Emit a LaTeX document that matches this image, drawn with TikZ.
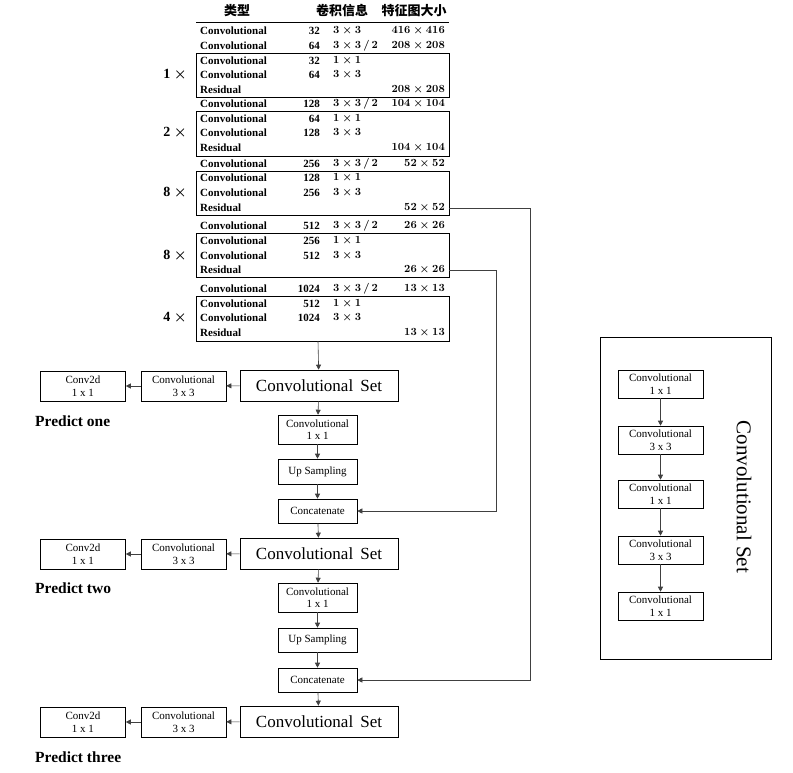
\documentclass[tikz,border=0pt]{standalone}
\usepackage{fontspec}
\setmainfont{Liberation Serif}
\newfontfamily\cjk{Noto Sans CJK SC}
\usetikzlibrary{arrows.meta}
\newcommand\trow[6]{%
 \node[tx,anchor=west] (#1a) at (200,#2) {#3};
 \node[tx,anchor=east] (#1b) at (320,#2) {#4};
 \node[tx,anchor=west] (#1c) at (333,#2) {#5};
 \node[tx,anchor=east] (#1d) at (445,#2) {#6};}
\begin{document}
\begin{tikzpicture}[x=1pt,y=-1pt,
 tx/.style={font=\bfseries\boldmath\fontsize{11}{12}\selectfont,inner sep=0pt},
 rep/.style={font=\bfseries\boldmath\fontsize{14}{15}\selectfont,inner sep=0pt},
 grp/.style={draw,line width=0.8pt},
 sb/.style={draw,line width=0.6pt,align=center,font=\fontsize{11}{12.5}\selectfont,inner sep=0pt},
 arr/.style={draw=black!75,line width=0.6pt,-{Triangle[length=5pt,width=5pt]}}]
\useasboundingbox (0,0) rectangle (793,772);
\fill[white] (0,0) rectangle (793,772);
% header
\node[font=\cjk\bfseries\fontsize{13}{14}\selectfont] (h1) at (237,11) {类型};
\node[font=\cjk\bfseries\fontsize{13}{14}\selectfont] (h2) at (342,11) {卷积信息};
\node[font=\cjk\bfseries\fontsize{13}{14}\selectfont] (h3) at (414,11) {特征图大小};
\draw[line width=0.6pt] (196,22) -- (449,22);
\trow{r1}{31}{Convolutional}{32}{$3\times3$}{$416\times416$}
\trow{r2}{46}{Convolutional}{64}{$3\times3\,/\,2$}{$208\times208$}
\trow{r3}{61}{Convolutional}{32}{$1\times1$}{}
\trow{r4}{75}{Convolutional}{64}{$3\times3$}{}
\trow{r5}{90}{Residual}{}{}{$208\times208$}
\trow{r6}{104}{Convolutional}{128}{$3\times3\,/\,2$}{$104\times104$}
\trow{r7}{119}{Convolutional}{64}{$1\times1$}{}
\trow{r8}{133}{Convolutional}{128}{$3\times3$}{}
\trow{r9}{148}{Residual}{}{}{$104\times104$}
\trow{r10}{164}{Convolutional}{256}{$3\times3\,/\,2$}{$52\times52$}
\trow{r11}{178}{Convolutional}{128}{$1\times1$}{}
\trow{r12}{193}{Convolutional}{256}{$3\times3$}{}
\trow{r13}{208}{Residual}{}{}{$52\times52$}
\trow{r14}{226}{Convolutional}{512}{$3\times3\,/\,2$}{$26\times26$}
\trow{r15}{241}{Convolutional}{256}{$1\times1$}{}
\trow{r16}{256}{Convolutional}{512}{$3\times3$}{}
\trow{r17}{270}{Residual}{}{}{$26\times26$}
\trow{r18}{289}{Convolutional}{1024}{$3\times3\,/\,2$}{$13\times13$}
\trow{r19}{304}{Convolutional}{512}{$1\times1$}{}
\trow{r20}{318}{Convolutional}{1024}{$3\times3$}{}
\trow{r21}{333}{Residual}{}{}{$13\times13$}
\draw[grp] (196,53) rectangle (449,97);
\draw[grp] (196,111) rectangle (449,156);
\draw[grp] (196,171) rectangle (449,215);
\draw[grp] (196,233) rectangle (449,277);
\draw[grp] (196,296) rectangle (449,341);
\coordinate (g3) at (449,208);
\coordinate (g4) at (449,270);
\coordinate (g5) at (318,341);
\node[rep] (m1) at (175,75) {1 $\times$};
\node[rep] (m2) at (175,133) {2 $\times$};
\node[rep] (m3) at (175,193) {8 $\times$};
\node[rep] (m4) at (175,256) {8 $\times$};
\node[rep] (m5) at (175,318) {4 $\times$};
% main column
\tikzset{set/.style={draw,line width=0.6pt,minimum width=158pt,minimum height=31pt,font=\fontsize{17}{19}\selectfont},
 c3/.style={sb,minimum width=85pt,minimum height=30pt},
 mid/.style={sb,minimum width=79pt},
 pr/.style={font=\bfseries\fontsize{15.5}{17}\selectfont,anchor=west,inner sep=0pt}}
\node[set] (s1) at (319,385.5) {Convolutional\, Set};
\node[c3] (a1) at (183.5,386) {Convolutional\\3 x 3};
\node[c3] (b1) at (83,386) {Conv2d\\1 x 1};
\node[pr] (p1) at (35,421) {Predict one};
\node[mid,minimum height=29pt] (k1) at (317.5,429.5) {Convolutional\\1 x 1};
\node[mid,minimum height=25pt] (u1) at (317.5,471.5) {Up Sampling};
\node[mid,minimum height=24pt] (n1) at (317.5,511) {Concatenate};
\node[set] (s2) at (319,553.5) {Convolutional\, Set};
\node[c3] (a2) at (183.5,554) {Convolutional\\3 x 3};
\node[c3] (b2) at (83,554) {Conv2d\\1 x 1};
\node[pr] (p2) at (35,588) {Predict two};
\node[mid,minimum height=29pt] (k2) at (317.5,597.5) {Convolutional\\1 x 1};
\node[mid,minimum height=24pt] (u2) at (317.5,640) {Up Sampling};
\node[mid,minimum height=24pt] (n2) at (317.5,680) {Concatenate};
\node[set] (s3) at (319,721.5) {Convolutional\, Set};
\node[c3] (a3) at (183.5,722) {Convolutional\\3 x 3};
\node[c3] (b3) at (83,722) {Conv2d\\1 x 1};
\node[pr] (p3) at (35,757) {Predict three};
\draw[arr] (g5) -- (s1);
\draw[arr] (s1) -- (a1); \draw[arr] (a1) -- (b1);
\draw[arr] (s1) -- (k1); \draw[arr] (k1) -- (u1); \draw[arr] (u1) -- (n1); \draw[arr] (n1) -- (s2);
\draw[arr] (s2) -- (a2); \draw[arr] (a2) -- (b2);
\draw[arr] (s2) -- (k2); \draw[arr] (k2) -- (u2); \draw[arr] (u2) -- (n2); \draw[arr] (n2) -- (s3);
\draw[arr] (s3) -- (a3); \draw[arr] (a3) -- (b3);
\draw[arr] (g4) -| (496,511) -- (n1.east);
\draw[arr] (g3) -| (530,680) -- (n2.east);
% right panel
\node[draw,line width=0.6pt,minimum width=171pt,minimum height=322pt] (panel) at (685.5,498) {};
\tikzset{rb/.style={sb,minimum width=85pt,minimum height=28pt}}
\node[rb] (q1) at (660.5,384) {Convolutional\\1 x 1};
\node[rb] (q2) at (660.5,440) {Convolutional\\3 x 3};
\node[rb] (q3) at (660.5,494) {Convolutional\\1 x 1};
\node[rb] (q4) at (660.5,550) {Convolutional\\3 x 3};
\node[rb] (q5) at (660.5,606) {Convolutional\\1 x 1};
\draw[arr] (q1) -- (q2); \draw[arr] (q2) -- (q3); \draw[arr] (q3) -- (q4); \draw[arr] (q4) -- (q5);
\node[rotate=-90,font=\fontsize{21}{23}\selectfont] (lbl) at (744,497) {Convolutional Set};
\end{tikzpicture}
\end{document}
